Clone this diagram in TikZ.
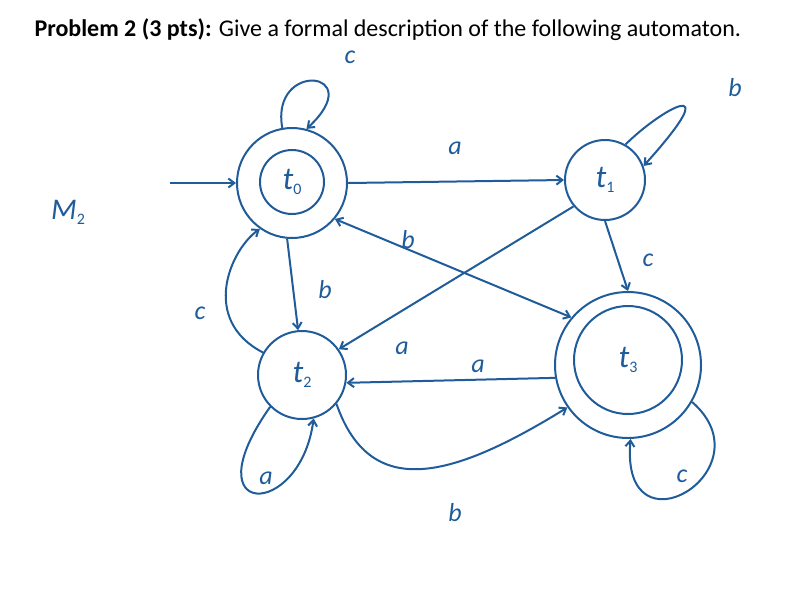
\documentclass[tikz,border=0pt]{standalone}
\usepackage{fontspec}
\setmainfont{Carlito}
\usetikzlibrary{arrows.meta}
\definecolor{ink}{HTML}{1F5C99}
\newcommand{\stl}[2][t]{\textit{#1}\raisebox{-5pt}{\fontsize{16}{16}\selectfont #2}}
\begin{document}
\begin{tikzpicture}[x=1pt,y=-1pt,
  ink/.style={draw=ink,line width=2pt},
  edge/.style={ink,-{Straight Barb[length=6pt,width=9pt]}},
  st/.style={ink,circle,inner sep=0pt,text=ink,font=\fontsize{32}{32}\selectfont},
  lbl/.style={text=ink,font=\fontsize{26}{26}\selectfont\itshape}]
\useasboundingbox (0,0) rectangle (794,590);
\node[anchor=west,font=\fontsize{24}{28}\selectfont] (title) at (31,30) {\textbf{Problem 2 (3 pts):} Give a formal description of the following automaton.};
\node[lbl,font=\fontsize{30}{30}\selectfont] (m) at (68,212) {\stl[M]{2}};
% states
\node[st,minimum size=110pt] (t0) at (292,183) {};
\node[st,minimum size=64pt] (t0i) at (292,182) {\stl{0}};
\node[st,minimum size=80pt] (t1) at (605,180) {\stl{1}};
\node[st,minimum size=88pt] (t2) at (302,375) {\stl{2}};
\node[st,minimum size=146pt] (t3) at (628,365) {};
\node[st,minimum size=108pt] (t3i) at (628,360) {\stl{3}};
\coordinate (s) at (170,183);
\draw[edge] (s) -- (t0);
% loops
\draw[edge] (t0.100) .. controls (270,60) and (370,70) .. (t0.75);
\node[lbl] (lc0) at (350,57) {c};
\draw[edge] (t1.60) .. controls (660,110) and (730,70) .. (t1.20);
\node[lbl] (lb1) at (735,88) {b};
\draw[edge] (t2.225) .. controls (190,520) and (300,520) .. (t2.285);
\node[lbl] (la2) at (266,478) {a};
\draw[edge] (t3.330) .. controls (770,470) and (620,560) .. (t3.272);
\node[lbl] (lc3) at (682,476) {c};
% edges
\draw[edge] (t0.0) -- (t1.180);
\node[lbl] (la01) at (455,148) {a};
\draw[edge] (t1.270) -- (t3.90);
\node[lbl] (lc13) at (648,260) {c};
\draw[edge] (t1.220) -- (t2.35);
\node[lbl] (la12) at (402,348) {a};
\draw[ink,{Straight Barb[length=6pt,width=9pt]}-{Straight Barb[length=6pt,width=9pt]}] (t0.320) -- (t3.140);
\node[lbl] (lb03) at (408,240) {b};
\draw[edge] (t0.265) -- (t2.95);
\node[lbl] (lb02) at (325,290) {b};
\draw[edge] (t2.150) .. controls (200,320) and (230,250) .. (t0.235);
\node[lbl] (lc20) at (200,313) {c};
\draw[edge] (t3.190) -- (t2.350);
\node[lbl] (la32) at (478,366) {a};
\draw[edge] (t2.320) .. controls (370,500) and (450,480) .. (t3.215);
\node[lbl] (lb23) at (455,513) {b};
\end{tikzpicture}
\end{document}
